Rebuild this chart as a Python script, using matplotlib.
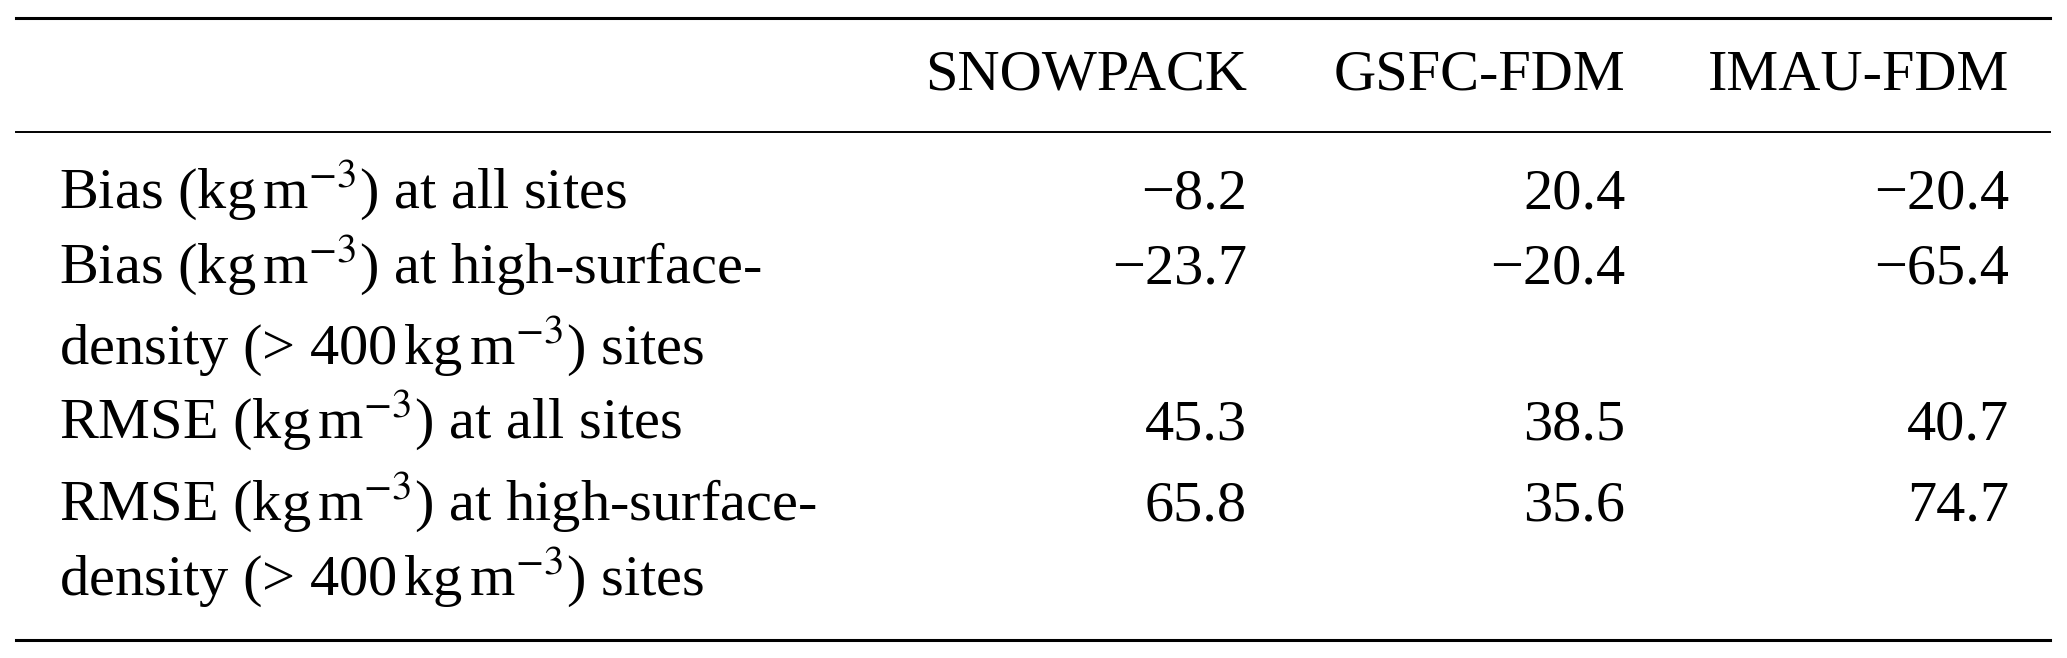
import matplotlib
matplotlib.use("Agg")
import matplotlib.pyplot as plt

plt.rcParams['font.family'] = ['Liberation Serif', 'DejaVu Serif']
plt.rcParams['mathtext.fontset'] = 'stix'

columns = ["SNOWPACK", "GSFC-FDM", "IMAU-FDM"]
row_labels = [
    ["Bias (kg$\\,$m$^{-3}$) at all sites"],
    ["Bias (kg$\\,$m$^{-3}$) at high-surface-", "density (> 400$\\,$kg$\\,$m$^{-3}$) sites"],
    ["RMSE (kg$\\,$m$^{-3}$) at all sites"],
    ["RMSE (kg$\\,$m$^{-3}$) at high-surface-", "density (> 400$\\,$kg$\\,$m$^{-3}$) sites"],
]
values = [
    ["−8.2", "20.4", "−20.4"],
    ["−23.7", "−20.4", "−65.4"],
    ["45.3", "38.5", "40.7"],
    ["65.8", "35.6", "74.7"],
]

W, H = 1568, 499
fig = plt.figure(figsize=(20.67, 6.58), dpi=100)
ax = fig.add_axes([0, 0, 1, 1])
ax.set_xlim(0, W); ax.set_ylim(H, 0); ax.axis('off')

fs = 42
col_x = [946, 1233, 1524]
for x, c in zip(col_x, columns):
    ax.text(x, 68, c, ha='right', va='baseline', fontsize=fs)

for y in (14, 485):
    ax.plot([12, 1555], [y, y], color='black', lw=2.2)
ax.plot([12, 1555], [100, 100], color='black', lw=1.4)

line_y = [[158], [215, 277], [333], [395, 452]]
for labels, ys, vals in zip(row_labels, line_y, values):
    for lab, y in zip(labels, ys):
        ax.text(45, y, lab, ha='left', va='baseline', fontsize=fs)
    for x, v in zip(col_x, vals):
        ax.text(x, ys[0], v, ha='right', va='baseline', fontsize=fs)

fig.savefig("out.png", dpi=100, facecolor='white')
